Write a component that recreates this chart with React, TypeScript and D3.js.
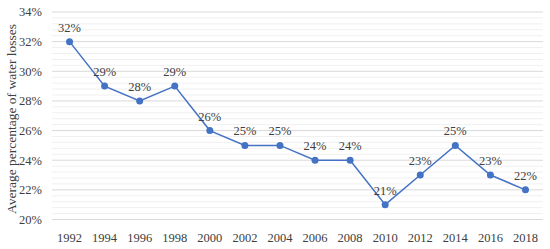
import React from "react";
import * as d3 from "d3";

const years = ["1992", "1994", "1996", "1998", "2000", "2002", "2004", "2006", "2008", "2010", "2012", "2014", "2016", "2018"];
const losses = [32, 29, 28, 29, 26, 25, 25, 24, 24, 21, 23, 25, 23, 22];
const yTicks = [20, 22, 24, 26, 28, 30, 32, 34];

const width = 550;
const height = 249;
const margin = { left: 52, right: 7, top: 12, bottom: 29.5 };
const fontFamily = "'Liberation Serif', 'DejaVu Serif', serif";

export default function App() {
  const x = d3
    .scaleBand()
    .domain(years)
    .range([margin.left, width - margin.right]);

  const y = d3
    .scaleLinear()
    .domain([20, 34])
    .range([height - margin.bottom, margin.top]);

  // minor grid every 0.4%
  const minor = d3.range(20, 34.001, 0.4).filter((v) => Math.abs(v / 2 - Math.round(v / 2)) > 0.01);

  const line = d3
    .line<number>()
    .x((_, i) => x(years[i])! + x.bandwidth() / 2)
    .y((d) => y(d));

  return (
    <svg width={width} height={height} style={{ position: "absolute", left: 0, top: 0 }} fontFamily={fontFamily}>
      <rect width={width} height={height} fill="#fff" />
      {minor.map((v) => (
        <line key={"m" + v} x1={margin.left} x2={width - margin.right} y1={y(v)} y2={y(v)} stroke="#f0f0f0" strokeWidth={1} />
      ))}
      {yTicks.map((v) => (
        <g key={v}>
          <line x1={margin.left} x2={width - margin.right} y1={y(v)} y2={y(v)} stroke="#d9d9d9" strokeWidth={1} />
          <text x={42} y={y(v)} dy="0.35em" textAnchor="end" fontSize={12.5} fill="#404040">
            {v}%
          </text>
        </g>
      ))}
      {years.map((yr) => (
        <text key={yr} x={x(yr)! + x.bandwidth() / 2} y={242} textAnchor="middle" fontSize={12.5} fill="#404040">
          {yr}
        </text>
      ))}
      <text
        transform={`translate(16,119) rotate(-90)`}
        textAnchor="middle"
        fontSize={13.5}
        fill="#404040"
      >
        Average percentage of water losses
      </text>
      <path d={line(losses) ?? ""} fill="none" stroke="#4472C4" strokeWidth={1.5} />
      {losses.map((v, i) => (
        <g key={i}>
          <circle cx={x(years[i])! + x.bandwidth() / 2} cy={y(v)} r={3.5} fill="#4472C4" />
          <text x={x(years[i])! + x.bandwidth() / 2} y={y(v) - 10} textAnchor="middle" fontSize={12.5} fill="#404040">
            {v}%
          </text>
        </g>
      ))}
    </svg>
  );
}
